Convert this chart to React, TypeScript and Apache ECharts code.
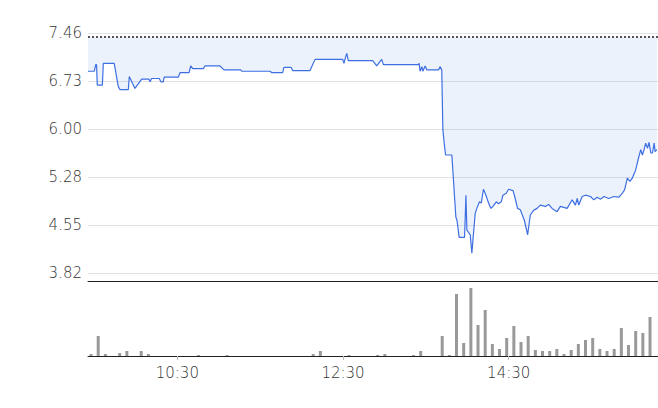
import React, { useEffect, useRef } from "react";
import * as echarts from "echarts";

// Price line vertices: time (minutes since midnight) and price
const PRICE_T = [
  565.3, 569.9, 570.9, 571.5, 572.0, 575.7, 576.4, 584.3, 587.2, 588.5,
  594.5, 595.2, 599.3, 604.2, 609.5, 610.2, 611.4, 616.9, 618.1, 619.8,
  620.5, 630.7, 632.0, 638.5, 639.7, 641.2, 648.8, 650.0, 660.9, 663.8,
  675.9, 676.6, 697.1, 698.3, 706.3, 707.2, 712.3, 713.5, 726.1, 729.7,
  749.8, 750.7, 751.4, 752.7, 753.8, 771.5, 774.4, 778.0, 779.2, 804.6,
  805.1, 805.8, 807.1, 807.8, 809.5, 810.7, 819.1, 820.4, 821.5, 822.3,
  823.5, 824.3, 828.8, 831.7, 832.5, 834.1, 838.0, 839.0, 839.7, 842.1,
  843.3, 845.7, 846.9, 848.8, 850.1, 851.7, 853.5, 855.4, 857.1, 858.6,
  861.0, 862.6, 864.6, 865.8, 868.2, 869.9, 873.1, 874.7, 876.4, 878.4,
  881.3, 883.7, 885.6, 888.0, 890.5, 892.9, 896.5, 898.9, 901.4, 905.0,
  907.4, 912.3, 915.9, 918.3, 919.6, 920.7, 923.2, 925.7, 929.2, 931.6,
  934.1, 936.5, 938.9, 942.5, 946.2, 949.8, 952.3, 953.9, 955.9, 957.8,
  959.5, 961.9, 963.6, 965.6, 966.8, 968.0, 969.2, 970.5, 971.6, 972.9,
  974.1, 975.3, 976.0, 977.3,
];
const PRICE_V = [
  6.88, 6.88, 6.98, 6.98, 6.67, 6.67, 7.0, 7.0, 6.65, 6.6,
  6.6, 6.8, 6.62, 6.76, 6.76, 6.72, 6.77, 6.77, 6.72, 6.72,
  6.79, 6.79, 6.86, 6.86, 6.96, 6.92, 6.92, 6.96, 6.96, 6.9,
  6.9, 6.88, 6.88, 6.86, 6.86, 6.94, 6.94, 6.89, 6.89, 7.06,
  7.06, 7.0, 7.06, 7.15, 7.04, 7.04, 6.96, 7.06, 6.98, 6.98,
  7.0, 6.88, 6.95, 6.88, 6.96, 6.9, 6.9, 6.95, 6.9, 5.99,
  5.74, 5.61, 5.61, 4.67, 4.62, 4.36, 4.36, 5.0, 4.47, 4.4,
  4.12, 4.72, 4.8, 4.9, 4.88, 5.09, 5.0, 4.88, 4.8, 4.83,
  4.9, 4.87, 4.9, 5.0, 5.03, 5.09, 5.07, 4.95, 4.8, 4.78,
  4.62, 4.4, 4.7, 4.77, 4.8, 4.85, 4.83, 4.86, 4.8, 4.75,
  4.83, 4.8, 4.93, 4.85, 4.95, 4.85, 4.98, 5.0, 4.98, 4.93,
  4.97, 4.94, 4.98, 4.95, 4.98, 4.97, 5.03, 5.08, 5.26, 5.21,
  5.26, 5.38, 5.53, 5.69, 5.61, 5.69, 5.79, 5.71, 5.8, 5.64,
  5.64, 5.79, 5.66, 5.69,
];

// Volume bars (evenly spaced intervals)
const VOLUME = [
  2, 20, 2, 0, 3, 5, 0, 5, 2, 0,
  0, 0, 0, 0, 0, 1, 0, 0, 0, 1,
  0, 0, 0, 0, 0, 0, 0, 0, 0, 0,
  0, 2, 5, 0, 0, 0, 1, 0, 0, 0,
  1, 2, 0, 0, 0, 1, 5, 0, 0, 20,
  1, 62, 13, 68, 31, 46, 12, 7, 18, 30,
  14, 20, 6, 5, 5, 7, 2, 6, 12, 16,
  18, 7, 5, 7, 28, 11, 25, 23, 39,
];
const VOL_START = 567.5;
const VOL_STEP = 5.19;

const PREV_CLOSE = 7.4;
const Y_TICKS = [3.82, 4.548, 5.276, 6.004, 6.732, 7.46];
const X_TICKS = [630, 750, 870]; // 10:30, 12:30, 14:30
const X_MIN = 565.3;
const X_MAX = 978.1;
const Y_MIN = 3.6987;
const Y_MAX = 7.46;

const FONT = "DejaVu Sans";

function fmtTime(v: number): string {
  const h = Math.floor(v / 60);
  const m = Math.round(v - h * 60);
  return `${h}:${m < 10 ? "0" + m : m}`;
}

export default function App() {
  const ref = useRef<HTMLDivElement>(null);
  useEffect(() => {
    if (!ref.current) return;
    const chart = echarts.init(ref.current, undefined, { renderer: "svg" });
    const priceData = PRICE_T.map((t, i) => [t, PRICE_V[i]]);
    const volData = VOLUME.map((v, i) => [VOL_START + i * VOL_STEP, v]);
    chart.setOption({
      animation: false,
      backgroundColor: "#ffffff",
      grid: [
        { left: 88, right: 0, top: 33, height: 248 },
        { left: 88, right: 0, top: 281, height: 75 },
      ],
      xAxis: [
        {
          gridIndex: 0,
          type: "value",
          min: X_MIN,
          max: X_MAX,
          axisLine: { show: true, onZero: false, lineStyle: { color: "#222", width: 1 } },
          axisTick: { show: false },
          axisLabel: { show: false },
          splitLine: { show: false },
        },
        {
          gridIndex: 1,
          type: "value",
          min: X_MIN,
          max: X_MAX,
          axisLine: { show: true, onZero: false, lineStyle: { color: "#222", width: 1 } },
          axisTick: {
            show: true,
            customValues: X_TICKS,
            length: 4,
            lineStyle: { color: "#bbb" },
          },
          axisLabel: {
            show: true,
            customValues: X_TICKS,
            formatter: (v: number) => fmtTime(v),
            fontFamily: FONT,
            fontWeight: 200,
            fontSize: 15,
            color: "#333",
            margin: 9,
          },
          splitLine: { show: false },
        },
      ],
      yAxis: [
        {
          gridIndex: 0,
          type: "value",
          min: Y_MIN,
          max: Y_MAX,
          axisLine: { show: false },
          axisTick: { show: false, customValues: Y_TICKS },
          axisLabel: {
            show: true,
            customValues: Y_TICKS,
            formatter: (v: number) => v.toFixed(2),
            fontFamily: FONT,
            fontWeight: 200,
            fontSize: 15,
            color: "#333",
            margin: 6,
          },
          splitLine: { show: true, lineStyle: { color: "#e2e2e2", width: 1 } },
        },
        {
          gridIndex: 1,
          type: "value",
          min: 0,
          max: 75,
          axisLine: { show: false },
          axisTick: { show: false },
          axisLabel: { show: false },
          splitLine: { show: false },
        },
      ],
      series: [
        {
          type: "line",
          xAxisIndex: 0,
          yAxisIndex: 0,
          data: priceData,
          showSymbol: false,
          symbol: "none",
          lineStyle: { color: "#3d6fe3", width: 1.2 },
          areaStyle: { color: "rgba(60,120,216,0.14)", origin: PREV_CLOSE },
          markLine: {
            silent: true,
            symbol: "none",
            label: { show: false },
            lineStyle: { color: "#555", width: 2, type: [2, 2] },
            data: [{ yAxis: PREV_CLOSE }],
          },
          z: 3,
        },
        {
          type: "bar",
          xAxisIndex: 1,
          yAxisIndex: 1,
          data: volData,
          barWidth: 3,
          itemStyle: { color: "#999" },
        },
      ],
    });
    return () => chart.dispose();
  }, []);
  return (
    <div
      ref={ref}
      style={{ position: "absolute", left: 0, top: 0, width: 658, height: 408 }}
    />
  );
}
